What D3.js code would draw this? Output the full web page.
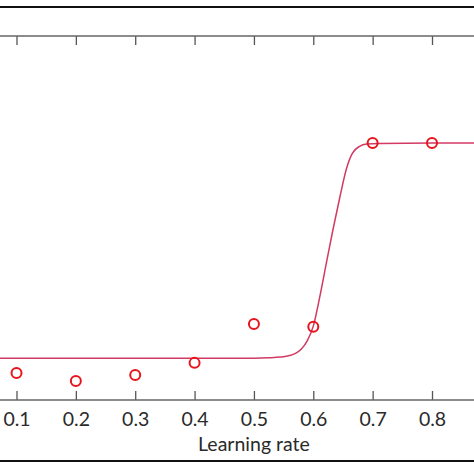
<!DOCTYPE html>
<html>
<head>
<meta charset="utf-8">
<script src="https://cdn.jsdelivr.net/npm/d3@7"></script>
<style>
  body { margin: 0; background: #fff; }
  svg { display: block; }
</style>
</head>
<body>
<div id="chart"></div>
<script>
// Measured accuracy at each learning rate (y axis has no labels, values on 0..1)
const rates = [0.1, 0.2, 0.3, 0.4, 0.5, 0.6, 0.7, 0.8];
const scores = [0.074, 0.052, 0.069, 0.102, 0.209, 0.201, 0.706, 0.706];

// Fitted curve
const fitRates = [0, 0.1, 0.3, 0.5, 0.525, 0.545, 0.56, 0.57, 0.58, 0.59, 0.6, 0.611, 0.622, 0.633, 0.645, 0.656, 0.666, 0.678, 0.69, 0.712, 0.8, 0.9];
const fitScores = [0.115, 0.115, 0.115, 0.115, 0.116, 0.118, 0.122, 0.128, 0.14, 0.163, 0.203, 0.284, 0.376, 0.467, 0.559, 0.636, 0.678, 0.697, 0.703, 0.705, 0.706, 0.706];

const tickValues = [0.1, 0.2, 0.3, 0.4, 0.5, 0.6, 0.7, 0.8];

const W = 474, H = 474;
const svg = d3.select("#chart").append("svg")
    .attr("width", W)
    .attr("height", H);

const plotTop = 36, plotBottom = 400;

const x = d3.scaleLinear()
    .domain([0.1, 0.8])
    .range([16.5, 432]);

const y = d3.scaleLinear()
    .domain([0, 1])
    .range([plotBottom, plotTop]);

// outer figure rules
svg.append("line")
    .attr("x1", 0).attr("x2", W)
    .attr("y1", 7).attr("y2", 7)
    .attr("stroke", "#111").attr("stroke-width", 2.2);
svg.append("line")
    .attr("x1", 0).attr("x2", W)
    .attr("y1", 461).attr("y2", 461)
    .attr("stroke", "#111").attr("stroke-width", 2.2);

// bottom axis, ticks pointing inward
const xAxis = d3.axisBottom(x)
    .tickValues(tickValues)
    .tickSize(-9)
    .tickPadding(12)
    .tickFormat(d3.format(".1f"));

const gx = svg.append("g")
    .attr("transform", `translate(0,${plotBottom})`)
    .call(xAxis);
gx.select(".domain").remove();
gx.selectAll("line").attr("stroke", "#555").attr("stroke-width", 1.3);
gx.selectAll("text")
    .attr("fill", "#2a2a2a")
    .style("font-family", "Lato, 'DejaVu Sans', sans-serif")
    .style("font-size", "19.5px");

// top axis, no labels
const gt = svg.append("g")
    .attr("transform", `translate(0,${plotTop})`)
    .call(d3.axisTop(x).tickValues(tickValues).tickSize(-9).tickFormat(""));
gt.select(".domain").remove();
gt.selectAll("line").attr("stroke", "#555").attr("stroke-width", 1.3);

// frame lines (left/right edges fall outside the picture)
[plotTop, plotBottom].forEach(yy => {
    svg.append("line")
        .attr("x1", 0).attr("x2", W)
        .attr("y1", yy).attr("y2", yy)
        .attr("stroke", "#666").attr("stroke-width", 1.3);
});

// fitted curve
const line = d3.line()
    .x((d, i) => x(fitRates[i]))
    .y((d, i) => y(fitScores[i]))
    .curve(d3.curveMonotoneX);

svg.append("path")
    .datum(fitScores)
    .attr("fill", "none")
    .attr("stroke", "#d23a64")
    .attr("stroke-width", 1.5)
    .attr("d", line);

// measured points
svg.selectAll("circle.pt")
    .data(scores)
    .enter().append("circle")
    .attr("class", "pt")
    .attr("cx", (d, i) => x(rates[i]))
    .attr("cy", d => y(d))
    .attr("r", 5)
    .attr("fill", "none")
    .attr("stroke", "#e8141c")
    .attr("stroke-width", 2);

// x label
svg.append("text")
    .attr("x", x(0.5))
    .attr("y", 451)
    .attr("text-anchor", "middle")
    .attr("fill", "#2a2a2a")
    .style("font-family", "Lato, 'DejaVu Sans', sans-serif")
    .style("font-size", "19.5px")
    .text("Learning rate");
</script>
</body>
</html>
